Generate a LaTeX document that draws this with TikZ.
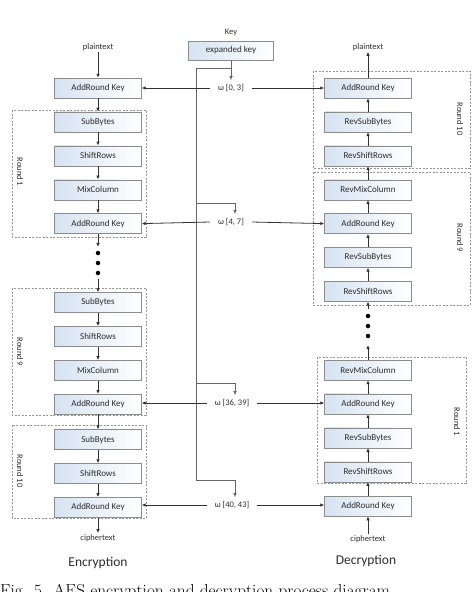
\documentclass[tikz,border=0pt]{standalone}
\usepackage{fontspec}
\newfontfamily\diagfont{Carlito}
\usetikzlibrary{arrows.meta, positioning}
\definecolor{cBoxL}{RGB}{214,227,243}
\definecolor{cLine}{RGB}{50,50,50}
\definecolor{cFrame}{RGB}{150,150,150}
\definecolor{cText}{RGB}{45,45,45}
\tikzset{
  stepbox/.style={rectangle, draw=black!45, left color=cBoxL, right color=white,
                  minimum width=87pt, minimum height=20pt, inner sep=0pt,
                  font=\diagfont\fontsize{9}{10}\selectfont, text=cText},
  plainlbl/.style={font=\diagfont\fontsize{8.5}{10}\selectfont, text=cText, inner sep=1pt},
  keylbl/.style={plainlbl, inner xsep=8pt, inner ysep=4pt},
  roundlbl/.style={plainlbl, rotate=-90},
  sidelbl/.style={font=\diagfont\fontsize{13.5}{15}\selectfont, text=cText},
  roundframe/.style={draw=cFrame, dash pattern=on 2pt off 1.5pt, line width=0.5pt},
  dotnode/.style={circle, fill=black, inner sep=0pt, minimum size=4.5pt},
  arrow/.style={-{Latex[length=4pt,width=3.5pt]}, line width=0.8pt, color=cLine},
  keyline/.style={line width=0.6pt, color=black!60},
  keyarrow/.style={keyline, -{Latex[length=4pt,width=3.5pt]}}
}
\begin{document}
\begin{tikzpicture}[x=1pt, y=-1pt, node distance=13.5pt]
  \useasboundingbox (0,0) rectangle (474,592);

  % encryption
  \node[plainlbl] (ptL) at (98,47) {plaintext};
  \node[stepbox] (arL0) at (98,88) {AddRound Key};
  \node[stepbox, below=of arL0] (sb1) {SubBytes};
  \node[stepbox, below=of sb1] (sr1) {ShiftRows};
  \node[stepbox, below=of sr1] (mc1) {MixColumn};
  \node[stepbox, below=of mc1] (ar1) {AddRound Key};

  \coordinate (dLtop) at (98,247);
  \node[dotnode] (dL1) at (98,253) {};
  \node[dotnode] (dL2) at (98,263) {};
  \node[dotnode] (dL3) at (98,273) {};
  \coordinate (dLbot) at (98,279);

  \node[stepbox] (sb9) at (98,302.5) {SubBytes};
  \node[stepbox, below=of sb9] (sr9) {ShiftRows};
  \node[stepbox, below=of sr9] (mc9) {MixColumn};
  \node[stepbox, below=of mc9] (ar9) {AddRound Key};
  \node[stepbox, below=15pt of ar9] (sb10) {SubBytes};
  \node[stepbox, below=of sb10] (sr10) {ShiftRows};
  \node[stepbox, below=of sr10] (ar10) {AddRound Key};
  \node[plainlbl] (ctL) at (98,538) {ciphertext};
  \node[sidelbl] (encL) at (98,563) {Encryption};

  \draw[roundframe] (12,110) rectangle (146,237);
  \draw[roundframe] (12,288) rectangle (146,415);
  \draw[roundframe] (12,425) rectangle (146,518);
  \node[roundlbl] (lblL1) at (20,172) {Round 1};
  \node[roundlbl] (lblL9) at (20,352) {Round 9};
  \node[roundlbl] (lblL10) at (20,471) {Round 10};

  \draw[arrow] (ptL.south) -- (arL0.north);
  \draw[arrow] (arL0.south) -- (sb1.north);
  \draw[arrow] (sb1.south) -- (sr1.north);
  \draw[arrow] (sr1.south) -- (mc1.north);
  \draw[arrow] (mc1.south) -- (ar1.north);
  \draw[arrow] (ar1.south) -- (dLtop);
  \draw[arrow] (dLbot) -- (sb9.north);
  \draw[arrow] (sb9.south) -- (sr9.north);
  \draw[arrow] (sr9.south) -- (mc9.north);
  \draw[arrow] (mc9.south) -- (ar9.north);
  \draw[arrow] (ar9.south) -- (sb10.north);
  \draw[arrow] (sb10.south) -- (sr10.north);
  \draw[arrow] (sr10.south) -- (ar10.north);
  \draw[arrow] (ar10.south) -- (ctL.north);

  % decryption
  \node[plainlbl] (ptR) at (368,47) {plaintext};
  \node[stepbox] (arR10) at (368,88) {AddRound Key};
  \node[stepbox, below=of arR10] (rsb10) {RevSubBytes};
  \node[stepbox, below=of rsb10] (rsr10) {RevShiftRows};
  \node[stepbox, below=of rsr10] (rmc9) {RevMixColumn};
  \node[stepbox, below=of rmc9] (arR9) {AddRound Key};
  \node[stepbox, below=of arR9] (rsb9) {RevSubBytes};
  \node[stepbox, below=of rsb9] (rsr9) {RevShiftRows};

  \coordinate (dRtop) at (368,309);
  \node[dotnode] (dR1) at (368,316) {};
  \node[dotnode] (dR2) at (368,326) {};
  \node[dotnode] (dR3) at (368,336) {};
  \coordinate (dRbot) at (368,345);

  \node[stepbox] (rmc1) at (368,370) {RevMixColumn};
  \node[stepbox, below=of rmc1] (arR1) {AddRound Key};
  \node[stepbox, below=of arR1] (rsb1) {RevSubBytes};
  \node[stepbox, below=of rsb1] (rsr1) {RevShiftRows};
  \node[stepbox, below=14pt of rsr1] (arR0) {AddRound Key};
  \node[plainlbl] (ctR) at (368,539) {ciphertext};
  \node[sidelbl] (decR) at (366,561) {Decryption};

  \draw[roundframe] (313,71) rectangle (470,168);
  \draw[roundframe] (313,172) rectangle (470,305);
  \draw[roundframe] (317,357) rectangle (466,483);
  \node[roundlbl] (lblR10) at (460,119) {Round 10};
  \node[roundlbl] (lblR9) at (460,238) {Round 9};
  \node[roundlbl] (lblR1) at (457,422) {Round 1};

  \draw[arrow] (arR10.north) -- (ptR.south);
  \draw[arrow] (rsb10.north) -- (arR10.south);
  \draw[arrow] (rsr10.north) -- (rsb10.south);
  \draw[arrow] (rmc9.north) -- (rsr10.south);
  \draw[arrow] (arR9.north) -- (rmc9.south);
  \draw[arrow] (rsb9.north) -- (arR9.south);
  \draw[arrow] (rsr9.north) -- (rsb9.south);
  \draw[arrow] (dRtop) -- (rsr9.south);
  \draw[arrow] (rmc1.north) -- (dRbot);
  \draw[arrow] (arR1.north) -- (rmc1.south);
  \draw[arrow] (rsb1.north) -- (arR1.south);
  \draw[arrow] (rsr1.north) -- (rsb1.south);
  \draw[arrow] (arR0.north) -- (rsr1.south);
  \draw[arrow] (ctR.north) -- (arR0.south);

  % key schedule
  \node[plainlbl] (keyT) at (231,32) {Key};
  \node[stepbox, minimum width=85pt, minimum height=19pt] (ekey) at (231,50.5) {expanded key};
  \node[keylbl] (w03) at (231,88) {ω [0, 3]};
  \node[keylbl] (w47) at (231,222) {ω [4, 7]};
  \node[keylbl] (w3639) at (232,403) {ω [36, 39]};
  \node[keylbl] (w4043) at (232,505) {ω [40, 43]};

  \coordinate (kJoin) at (231,68);
  \coordinate (kTop) at (196,68);
  \coordinate (k47) at (196,203);
  \coordinate (k3639) at (196,383);
  \coordinate (kBot) at (196,480);

  \draw[keyarrow] (ekey.south) -- (w03.north);
  \draw[keyline] (kJoin) -- (kTop) -- (kBot);
  \draw[keyarrow] (k47) -| ([xshift=4pt]w47.north);
  \draw[keyarrow] (k3639) -| ([xshift=3pt]w3639.north);
  \draw[keyarrow] (kBot) -| ([xshift=3pt]w4043.north);

  \draw[arrow] (w03.west) -- (arL0.east);
  \draw[arrow] (w03.east) -- (arR10.west);
  \draw[arrow] (w47.west) -- (ar1.east);
  \draw[arrow] (w47.east) -- (arR9.west);
  \draw[arrow] (w3639.west) -- (w3639.west -| ar9.east);
  \draw[arrow] (w3639.east) -- (w3639.east -| arR1.west);
  \draw[arrow] (w4043.west) -- (w4043.west -| ar10.east);
  \draw[arrow] (w4043.east) -- (w4043.east -| arR0.west);

  \node[anchor=base west, inner sep=0pt, font=\fontsize{17.3}{19}\selectfont] (caption)
      at (0,596) {Fig. 5. AES encryption and decryption process diagram};

\end{tikzpicture}
\end{document}
